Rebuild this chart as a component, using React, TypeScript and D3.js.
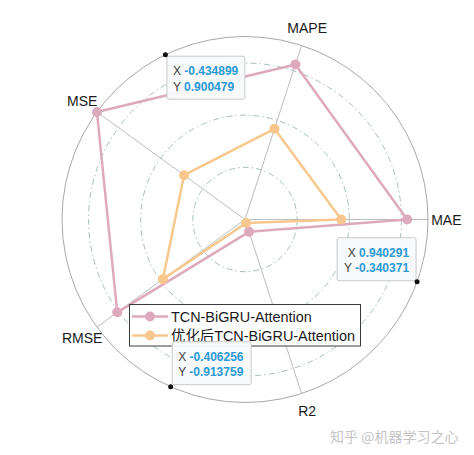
import React from "react";
import * as d3 from "d3";

const categories = ["MAE", "MAPE", "MSE", "RMSE", "R2"];
const seriesNames = ["TCN-BiGRU-Attention", "优化后TCN-BiGRU-Attention"];
const seriesBase = [0.886, 0.891, 1.0, 0.863, 0.071];
const seriesOpt = [0.526, 0.521, 0.412, 0.554, 0.02];
const gridLevels = [0.285, 0.57, 0.855];
const tipX = [-0.434899, 0.940291, -0.406256];
const tipY = [0.900479, -0.340371, -0.913759];
const watermark = "知乎 @机器学习之心";

const W = 474;
const H = 455;
const CX = 245;
const CY = 219.5;
const R = 183;
const PINK = "#DDAABD";
const ORANGE = "#F8C78D";
const FONT = "'Liberation Sans', Arial, 'Noto Sans CJK SC', sans-serif";

export default function App() {
  const r = d3.scaleLinear().domain([0, 1]).range([0, R]);
  const ang = (i: number) => (i * 2 * Math.PI) / categories.length; // math angle ccw from +x
  const pt = (i: number, v: number) => [CX + r(v) * Math.cos(ang(i)), CY - r(v) * Math.sin(ang(i))];
  const xy = d3.scaleLinear().domain([-1, 1]).range([-R, R]);

  const line = d3
    .lineRadial<number>()
    .angle((_, i) => Math.PI / 2 - ang(i))
    .radius((v) => r(v))
    .curve(d3.curveLinearClosed);

  const series = [
    { name: seriesNames[0], values: seriesBase, color: PINK },
    { name: seriesNames[1], values: seriesOpt, color: ORANGE },
  ];

  const tipLayouts = [
    { bx: 1.5, by: 1.5, w: 78, h: 43, align: "start" },
    { bx: -80, by: -44, w: 79, h: 43, align: "end" },
    { bx: 1.5, by: -45, w: 79, h: 43, align: "start" },
  ];

  return (
    <svg
      width={W}
      height={H}
      style={{ position: "absolute", left: 0, top: 0, background: "#fff" }}
      fontFamily={FONT}
    >
      <rect x={0} y={0} width={W} height={H} fill="#fff" />
      {/* grid */}
      {gridLevels.map((g, k) => (
        <circle
          key={k}
          cx={CX}
          cy={CY}
          r={r(g)}
          fill="none"
          stroke="#9DB5B5"
          strokeWidth={0.9}
          strokeDasharray="6 3 1.5 3"
        />
      ))}
      <circle cx={CX} cy={CY} r={r(1)} fill="none" stroke="#A8A8A8" strokeWidth={1} />
      {categories.map((c, i) => {
        const [x, y] = pt(i, 1);
        return <line key={c} x1={CX} y1={CY} x2={x} y2={y} stroke="#BDBDBD" strokeWidth={1} />;
      })}
      {categories.map((c, i) => {
        const [x, y] = pt(i, 1.1);
        return (
          <text key={c} x={x} y={y} fontSize={14} textAnchor="middle" dominantBaseline="central" fill="#1a1a1a">
            {c}
          </text>
        );
      })}
      {/* series */}
      {series.map((s) => (
        <g key={s.name}>
          <path
            d={line(s.values) || ""}
            transform={`translate(${CX},${CY})`}
            fill="none"
            stroke={s.color}
            strokeWidth={2.5}
            strokeLinejoin="round"
          />
          {s.values.map((v, i) => {
            const [x, y] = pt(i, v);
            return <circle key={i} cx={x} cy={y} r={5} fill={s.color} />;
          })}
        </g>
      ))}
      {/* legend */}
      <g>
        <rect x={129.5} y={304.5} width={231} height={41.5} fill="#fff" stroke="#3a3a3a" strokeWidth={1} />
        {series.map((s, k) => {
          const y = 316.5 + k * 19;
          return (
            <g key={s.name}>
              <line x1={132} x2={168} y1={y} y2={y} stroke={s.color} strokeWidth={2.5} />
              <circle cx={150} cy={y} r={5} fill={s.color} />
              <text x={171} y={y} fontSize={14.4} dominantBaseline="central" fill="#1a1a1a">
                {s.name}
              </text>
            </g>
          );
        })}
      </g>
      {/* data tips */}
      {tipX.map((tx, k) => {
        const dx = CX + xy(tx);
        const dy = CY - xy(tipY[k]);
        const L = tipLayouts[k];
        const bx = dx + L.bx;
        const by = dy + L.by;
        const anchor = L.align === "end" ? "end" : "start";
        const textX = L.align === "end" ? bx + L.w - 7 : bx + 6;
        return (
          <g key={k}>
            <rect
              x={bx}
              y={by}
              width={L.w}
              height={L.h}
              rx={2}
              fill="#F8F9FA"
              fillOpacity={0.95}
              stroke="#C9C9C9"
              strokeWidth={1}
            />
            {["X", "Y"].map((lab, j) => (
              <text
                key={lab}
                x={textX}
                y={by + 15 + j * 15.7}
                fontSize={12}
                textAnchor={anchor}
                dominantBaseline="central"
                fill="#404040"
              >
                {lab + " "}
                <tspan fontWeight="bold" fill="#2A9AD6">
                  {(j === 0 ? tx : tipY[k]).toFixed(6)}
                </tspan>
              </text>
            ))}
            <circle cx={dx} cy={dy} r={2.5} fill="#111" />
          </g>
        );
      })}
      <text x={330} y={436} fontSize={14} fill="#C4C4C4" dominantBaseline="central" fontFamily="'Noto Sans CJK SC', sans-serif">
        {watermark}
      </text>
    </svg>
  );
}
